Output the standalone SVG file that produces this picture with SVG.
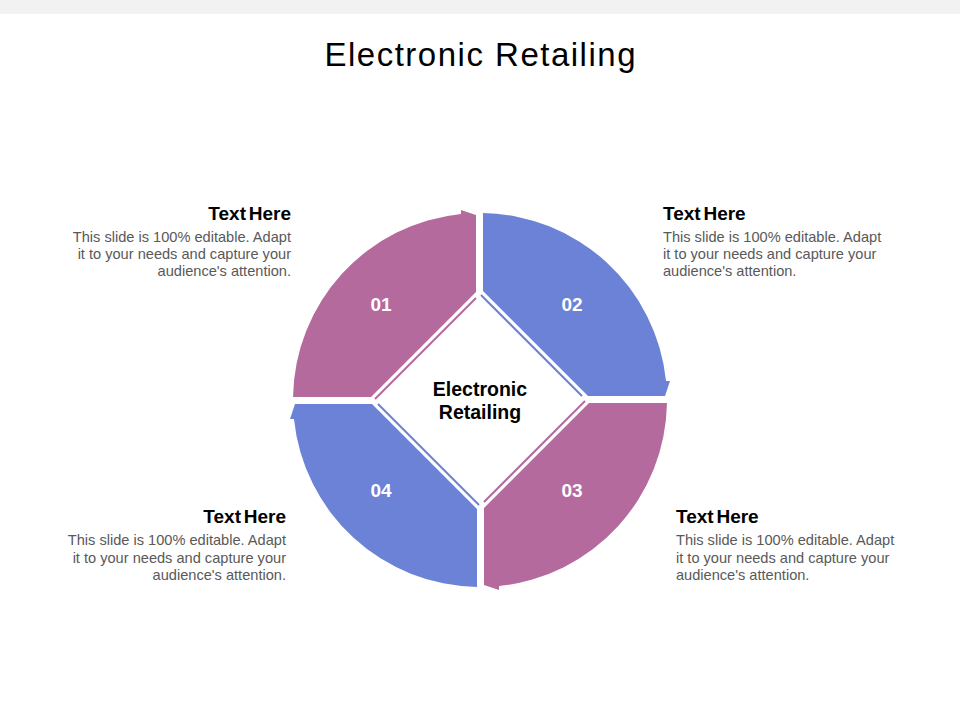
<svg xmlns="http://www.w3.org/2000/svg" width="960" height="720" viewBox="0 0 960 720">
  <defs>
    <style>
      .purple { fill: #B46A9C; }
      .blue { fill: #6C82D6; }
      .lp { stroke: #B46A9C; stroke-width: 2; fill: none; }
      .lb { stroke: #6C82D6; stroke-width: 2; fill: none; }
      .num { font-family: "Liberation Sans", Arial, sans-serif; font-weight: bold; font-size: 19px; fill: #FFFFFF; text-anchor: middle; }
      .center { font-family: "Liberation Sans", Arial, sans-serif; font-weight: bold; font-size: 19.5px; fill: #000000; text-anchor: middle; }
      .head { font-family: "Liberation Sans", Arial, sans-serif; font-weight: bold; font-size: 19px; fill: #000000; word-spacing: -2.5px; }
      .body { font-family: "Liberation Sans", Arial, sans-serif; font-size: 14.6px; fill: #595959; }
      .title { font-family: "Liberation Sans", Arial, sans-serif; font-size: 33px; fill: #000000; text-anchor: middle; }
    </style>
    <path id="seg" d="M -186.98 -3 L -109 -3 L -4 -108 L -4 -185 L -19 -190 L -19 -186.03 A 187 187 0 0 0 -186.98 -3 Z"/>
    <line id="thin" x1="-4" y1="-102" x2="-105" y2="-1"/>
  </defs>

  <rect x="0" y="0" width="960" height="14" fill="#F2F2F2"/>
  <text class="title" x="480" y="66" textLength="311" lengthAdjust="spacing">Electronic Retailing</text>

  <g id="node-01">
    <use href="#seg" class="purple" transform="translate(480,400)"/>
    <use href="#thin" class="lp" transform="translate(480,400)"/>
    <text class="num" x="381" y="311">01</text>
  </g>
  <g id="node-02">
    <use href="#seg" class="blue" transform="translate(480,400) rotate(90)"/>
    <use href="#thin" class="lb" transform="translate(480,400) rotate(90)"/>
    <text class="num" x="572" y="311">02</text>
  </g>
  <g id="node-03">
    <use href="#seg" class="purple" transform="translate(480,400) rotate(180)"/>
    <use href="#thin" class="lp" transform="translate(480,400) rotate(180)"/>
    <text class="num" x="572" y="497">03</text>
  </g>
  <g id="node-04">
    <use href="#seg" class="blue" transform="translate(480,400) rotate(270)"/>
    <use href="#thin" class="lb" transform="translate(480,400) rotate(270)"/>
    <text class="num" x="381" y="497">04</text>
  </g>

  <g id="node-center">
    <text class="center" x="480" y="396">Electronic</text>
    <text class="center" x="480" y="419">Retailing</text>
  </g>

  <g id="connectors"></g>

  <g id="text-01" text-anchor="end">
    <text class="head" x="291" y="220">Text Here</text>
    <text class="body" x="291" y="242">This slide is 100% editable. Adapt</text>
    <text class="body" x="291" y="259">it to your needs and capture your</text>
    <text class="body" x="291" y="276">audience's attention.</text>
  </g>
  <g id="text-02" text-anchor="start">
    <text class="head" x="663" y="220">Text Here</text>
    <text class="body" x="663" y="242">This slide is 100% editable. Adapt</text>
    <text class="body" x="663" y="259">it to your needs and capture your</text>
    <text class="body" x="663" y="276">audience's attention.</text>
  </g>
  <g id="text-03" text-anchor="start">
    <text class="head" x="676" y="523">Text Here</text>
    <text class="body" x="676" y="545">This slide is 100% editable. Adapt</text>
    <text class="body" x="676" y="563">it to your needs and capture your</text>
    <text class="body" x="676" y="580">audience's attention.</text>
  </g>
  <g id="text-04" text-anchor="end">
    <text class="head" x="286" y="523">Text Here</text>
    <text class="body" x="286" y="545">This slide is 100% editable. Adapt</text>
    <text class="body" x="286" y="563">it to your needs and capture your</text>
    <text class="body" x="286" y="580">audience's attention.</text>
  </g>
</svg>
